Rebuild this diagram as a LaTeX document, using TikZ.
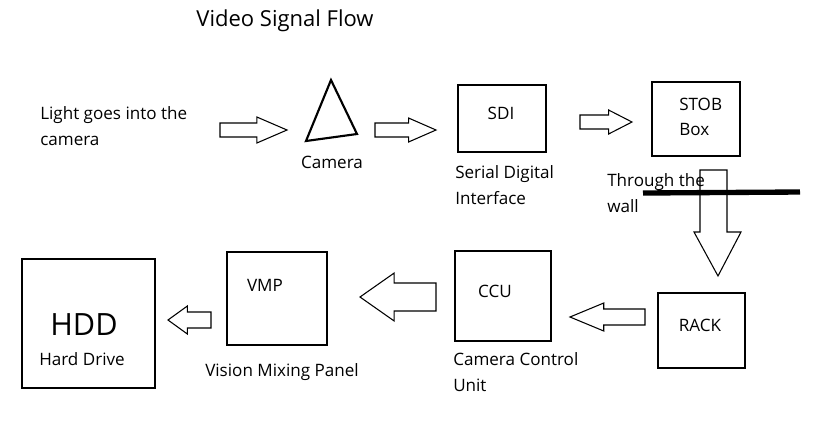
\documentclass[tikz,border=0pt]{standalone}
\usepackage{fontspec}
\setmainfont{Open Sans}
\newcommand{\harrow}[5]{% tailx, y, tipx, shaft half, head half
  \pgfmathsetmacro{\hl}{0.45*(#3-#1)}
  \pgfmathsetmacro{\nx}{#3-\hl}
  \draw[arr] (#1,#2-#4) -- (\nx,#2-#4) -- (\nx,#2-#5) -- (#3,#2) -- (\nx,#2+#5) -- (\nx,#2+#4) -- (#1,#2+#4) -- cycle;}
\begin{document}
\begin{tikzpicture}[x=0.75pt,y=-0.75pt,
  box/.style={draw,line width=1.6pt},
  arr/.style={draw,line width=0.8pt},
  lbl/.style={font=\fontsize{12.8}{19}\selectfont,align=left,anchor=west,inner sep=0pt}]
\useasboundingbox (0,0) rectangle (819,430);
\node[font=\fontsize{16.5}{20}\selectfont] (title) at (285,21) {Video Signal Flow};
\node[lbl] (light) at (40,126) {Light goes into the\\camera};
\harrow{220}{130}{287}{7}{13}
\draw[line width=1.6pt,line join=miter] (331,80) -- (306,141) -- (357,134) -- cycle;
\node[lbl,anchor=center] (camlbl) at (332,162) {Camera};
\harrow{375}{130}{436}{7}{12}
\draw[box] (458,85) rectangle (546,152);
\node[lbl,anchor=center] (sdi) at (501,113) {SDI};
\node[lbl] (sdilbl) at (455,185) {Serial Digital\\Interface};
\harrow{580}{122}{632}{7}{12}
\draw[box] (652,82) rectangle (740,156);
\node[lbl] (stob) at (679,117) {STOB\\Box};
\node[lbl] (wall) at (607,193) {Through the\\wall};
\draw[line width=4pt] (643,193) -- (800,192);
\draw[arr] (700,170) -- (727,170) -- (727,232) -- (741,232) -- (718,276) -- (694,232) -- (700,232) -- cycle;
\draw[box] (658,293) rectangle (745,368);
\node[lbl,anchor=center] (rack) at (700,325) {RACK};
\harrow{645}{317}{570}{8}{14}
\draw[box] (455,251) rectangle (551,341);
\node[lbl,anchor=center] (ccu) at (495,291) {CCU};
\node[lbl] (ccul) at (453,372) {Camera Control\\Unit};
\harrow{436}{297}{360}{14}{24}
\draw[box] (227,252) rectangle (327,345);
\node[lbl,anchor=center] (vmp) at (265,285) {VMP};
\node[lbl] (vmpl) at (205,372) {Vision Mixing Panel};
\harrow{211}{320}{168}{8}{14}
\draw[box] (22,259) rectangle (155,388);
\node[font=\fontsize{23}{26}\selectfont] (hdd) at (84,325) {HDD};
\node[lbl,anchor=center] (hddl) at (82,359) {Hard Drive};
\end{tikzpicture}
\end{document}
